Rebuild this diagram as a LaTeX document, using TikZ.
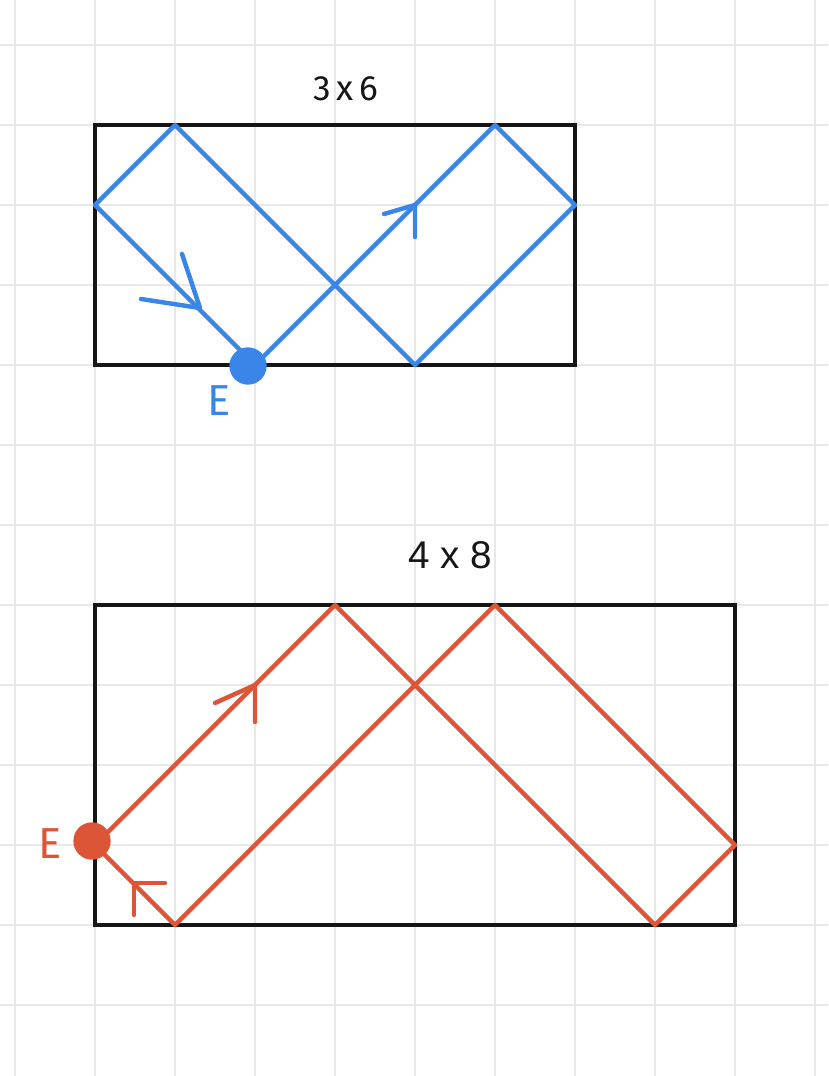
\documentclass[tikz,border=0pt]{standalone}
\usepackage{fontspec}
\newfontfamily\fira{Fira Sans}
\newfontfamily\libsans{Liberation Sans}
\definecolor{gridc}{HTML}{E8E8E8}
\definecolor{bluec}{HTML}{3A86E8}
\definecolor{redc}{HTML}{DC5536}
\definecolor{blackc}{HTML}{161616}
\begin{document}
\begin{tikzpicture}[x=0.03cm,y=-0.03cm,
  gridline/.style={draw=gridc,line width=1.7pt},
  frame/.style={draw=blackc,line width=3.9pt,line join=miter},
  bluepath/.style={draw=bluec,line width=3.8pt,line join=round,line cap=round},
  redpath/.style={draw=redc,line width=3.8pt,line join=round,line cap=round},
  title/.style={inner sep=0pt,text=blackc},
  dot/.style={circle,inner sep=0pt,minimum size=1.12cm},
  elabel/.style={inner sep=0pt,font=\fira\fontsize{37}{40}\selectfont}]
\useasboundingbox (0,0) rectangle (828,1076);
% grid
\foreach \x in {15,95,...,815} \draw[gridline] (\x,0) -- (\x,1076);
\foreach \y in {45,125,...,1005} \draw[gridline] (0,\y) -- (828,\y);
% titles
\node[title,font=\fira\fontsize{30}{34}\selectfont] (t1) at (346,89) {3\,x\,6};
\node[title,font=\libsans\fontsize{33}{36}\selectfont] (t2) at (450,555) {4 x 8};
% frames
\draw[frame] (95,125) rectangle (575,365);
\draw[frame] (95,605) rectangle (735,925);
% blue loop
\coordinate (b1) at (95,205);
\coordinate (b2) at (175,125);
\coordinate (b3) at (415,365);
\coordinate (b4) at (575,205);
\coordinate (b5) at (495,125);
\coordinate (b6) at (255,365);
\draw[bluepath] (b1) -- (b2) -- (b3) -- (b4) -- (b5) -- (b6) -- cycle;
% blue arrows
\coordinate (ba) at (200,308);
\draw[bluepath] (141,299) -- (ba) -- (182,254);
\coordinate (bb) at (415,205);
\draw[bluepath] (384,214) -- (bb) -- (415,237);
\node[dot,fill=bluec] (be) at (248,366) {};
\node[elabel,text=bluec] (bel) at (219,401) {E};
% red loop
\coordinate (r1) at (95,845);
\coordinate (r2) at (335,605);
\coordinate (r3) at (655,925);
\coordinate (r4) at (735,845);
\coordinate (r5) at (495,605);
\coordinate (r6) at (175,925);
\draw[redpath] (r1) -- (r2) -- (r3) -- (r4) -- (r5) -- (r6) -- cycle;
% red arrows
\coordinate (ra) at (255,685);
\draw[redpath] (215,703) -- (ra) -- (255,722);
\coordinate (rb) at (134,883);
\draw[redpath] (165,883) -- (rb) -- (134,915);
\node[dot,fill=redc] (re) at (92,841) {};
\node[elabel,text=redc] (rel) at (50,844) {E};
\end{tikzpicture}
\end{document}
